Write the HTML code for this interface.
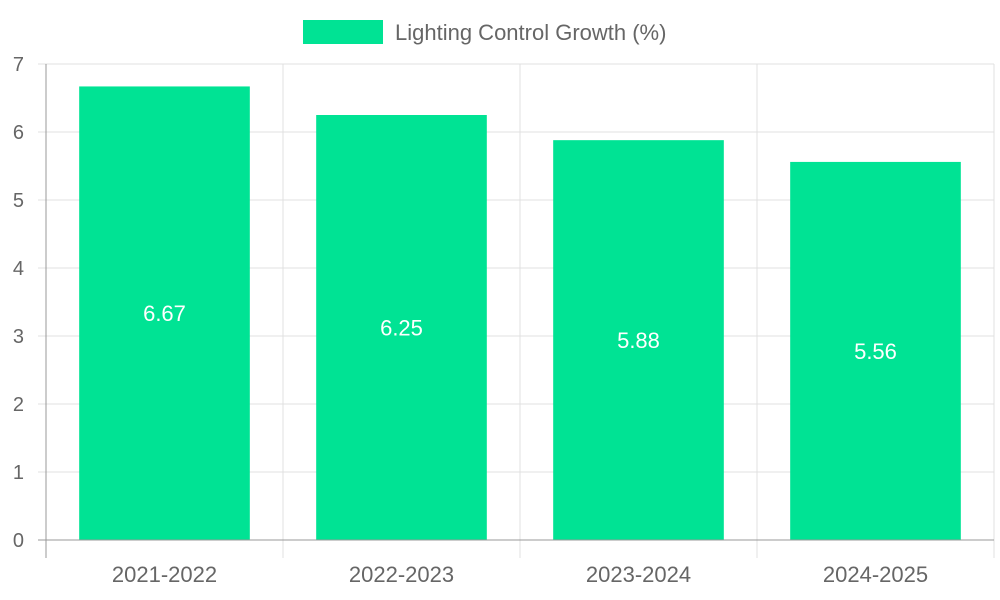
<!DOCTYPE html>
<html><head><meta charset="utf-8"><style>
html,body{margin:0;padding:0;background:#fff;}
svg{display:block;font-family:"Liberation Sans",sans-serif;}
</style></head><body>
<svg id="chart" width="1000" height="600" xmlns="http://www.w3.org/2000/svg">
<g>
<rect x="303" y="20" width="80" height="24" fill="#00e394"/>
<text x="395" y="40" font-size="22" fill="#666">Lighting Control Growth (%)</text>
</g>
<g id="grid"></g>
<g id="bars"></g>
<g id="axes"></g>
</svg>
<script>
const categories = ["2021-2022","2022-2023","2023-2024","2024-2025"];
const values = [6.67, 6.25, 5.88, 5.56];
const yTicks = [0,1,2,3,4,5,6,7];
const NS="http://www.w3.org/2000/svg";
const L=46,R=994,T=64,B=540,yMax=7;
const bw=(R-L)/categories.length;
const y=v=>B-(v/yMax)*(B-T);
const x=i=>L+i*bw;
function mk(tag,attrs,parent,text){const e=document.createElementNS(NS,tag);for(const k in attrs)e.setAttribute(k,attrs[k]);if(text!==undefined)e.textContent=text;parent.appendChild(e);return e;}
const grid=document.getElementById('grid'),bars=document.getElementById('bars'),axes=document.getElementById('axes');
yTicks.forEach(t=>{
  const g=mk('line',{x1:38,x2:R,y1:y(t),y2:y(t),stroke:t===0?'#999':'#e0e0e0','stroke-width':1},t===0?axes:grid);
  
  
  const lb=mk('text',{x:24,y:y(t)+7,'font-size':20,fill:'#666','text-anchor':'end'},axes,String(t));
  
  
});
for(let i=0;i<=categories.length;i++){
  const g=mk('line',{x1:x(i),x2:x(i),y1:T,y2:B+18,stroke:i===0?'#999':'#e0e0e0','stroke-width':1},i===0?axes:grid);
  
  
}
categories.forEach((c,i)=>{
  const w=bw*0.72,cx=x(i)+bw/2;
  const r=mk('rect',{x:cx-w/2,y:y(values[i]),width:w,height:B-y(values[i]),fill:'#00e394'},bars);
  
  
  const v=mk('text',{x:cx,y:(y(values[i])+B)/2+8,'font-size':22,fill:'#fff','text-anchor':'middle'},bars,values[i].toFixed(2));
  
  
  const lb=mk('text',{x:cx,y:582,'font-size':22,fill:'#666','text-anchor':'middle'},axes,c);
  
  
});
</script>
</body></html>
